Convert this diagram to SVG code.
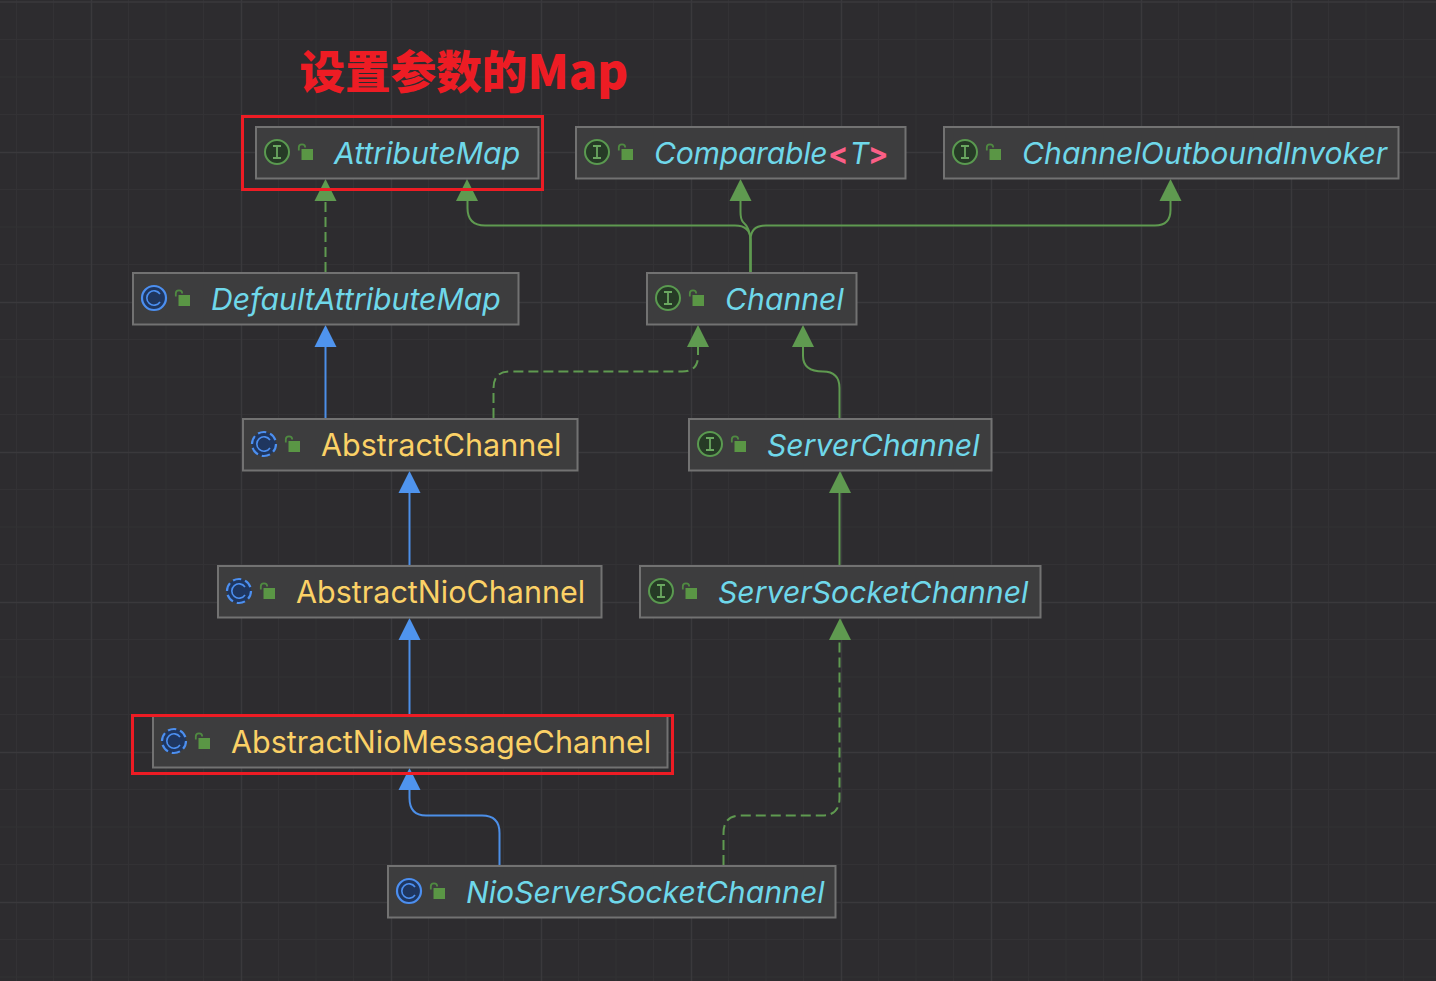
<svg xmlns="http://www.w3.org/2000/svg" width="1436" height="981" viewBox="0 0 1436 981">
<style>
.box{fill:#3d3d3e;stroke:#727272;stroke-width:2}
.t{font-family:Inter,"Liberation Sans",sans-serif;font-size:30.5px}
.i{font-style:italic;fill:#6fd8ea;font-size:30.2px}
.a{fill:#fbd166}
.p{fill:#fb5f87;font-style:normal;font-weight:700}
.g{fill:none;stroke:#5f9a50;stroke-width:2}
.b{fill:none;stroke:#4c8fe8;stroke-width:2}
.d{stroke-dasharray:10 5}
.hg{fill:#5f9a50}
.hb{fill:#4f94ee}
.red{fill:none;stroke:#ed1c24;stroke-width:3}
.gm{stroke:#333235;stroke-width:1}
.gM{stroke:#3a393c;stroke-width:1.5}
</style>
<defs>
<g id="lock"><rect x="3.500" y="-3" width="11.500" height="11" fill="#5a9645"/><path d="M0.800 -1.500V-4.500a3.200 3.200 0 0 1 6.400 0" fill="none" stroke="#4f8a41" stroke-width="1.800"/></g>
<g id="ci"><circle r="12" fill="#263a26" stroke="#5a9a50" stroke-width="2"/><path d="M-4 -6H4M-4 6H4M0 -6V6" stroke="#6aa860" stroke-width="1.800" fill="none"/></g>
<g id="cc"><circle r="12" fill="#1f365f" stroke="#4c8ff0" stroke-width="2.200"/><path d="M6 -4A7.200 7.200 0 1 0 6 4" fill="none" stroke="#4c8ff0" stroke-width="1.600"/></g>
<g id="ca"><circle r="12" fill="#1f365f" stroke="#4c8ff0" stroke-width="2.200" stroke-dasharray="8.500 4"/><path d="M6 -4A7.200 7.200 0 1 0 6 4" fill="none" stroke="#4c8ff0" stroke-width="1.600"/></g>
<path id="tri" d="M0 0L11 22H-11Z"/>
</defs>
<rect width="1436" height="981" fill="#2d2c2f"/>
<g id="grid">
<path class="gm" d="M16.500 0V981M53.500 0V981M128.500 0V981M166 0V981M203.500 0V981M278.500 0V981M316 0V981M353.500 0V981M428.500 0V981M466 0V981M503.500 0V981M578.500 0V981M616 0V981M653.500 0V981M728.500 0V981M766 0V981M803.500 0V981M878.500 0V981M916 0V981M953.500 0V981M1028.500 0V981M1066 0V981M1103.500 0V981M1178.500 0V981M1216 0V981M1253.500 0V981M1328.500 0V981M1366 0V981M1403.500 0V981"/>
<path class="gm" d="M0 39.500H1436M0 77H1436M0 114.500H1436M0 189.500H1436M0 227H1436M0 264.500H1436M0 339.500H1436M0 377H1436M0 414.500H1436M0 489.500H1436M0 527H1436M0 564.500H1436M0 639.500H1436M0 677H1436M0 714.500H1436M0 789.500H1436M0 827H1436M0 864.500H1436M0 939.500H1436M0 977H1436"/>
<path class="gM" d="M91.500 0V981M241.500 0V981M391.500 0V981M541.500 0V981M691.500 0V981M841.500 0V981M991.500 0V981M1141.500 0V981M1291.500 0V981"/>
<path class="gM" d="M0 2H1436M0 152.500H1436M0 302.500H1436M0 452.500H1436M0 602.500H1436M0 752.500H1436M0 902.500H1436"/>
</g>
<g id="connectors">
<path class="g d" d="M325.500 272V195"/>
<path class="g" d="M750.500 272V240Q750.500 225.500 735 225.500H485Q467.500 225.500 467.500 208V195"/>
<path class="g" d="M750.500 272V240Q750 228 743 222Q740.500 219 740.500 212V195"/>
<path class="g" d="M750.500 272V240Q750.500 225.500 766 225.500H1155Q1170.500 225.500 1170.500 210V195"/>
<path class="b" d="M325.500 418V342"/>
<path class="g d" d="M493.500 418V388Q493.500 371.500 510 371.500H682Q698 371.500 698 356V342"/>
<path class="g" d="M839.500 418V388Q839.500 371.500 823 371.500Q803 371.500 803 356V342"/>
<path class="b" d="M409.500 565V488"/>
<path class="g" d="M839.500 565V488"/>
<path class="b" d="M409.500 715V635"/>
<path class="g d" d="M723.500 865V833Q723.500 815.500 741 815.500H822Q839.500 815.500 839.500 798V635"/>
<path class="b" d="M499.500 865V833Q499.500 815.500 482 815.500H426Q409.500 815.500 409.500 798V785"/>
<g class="hg">
<use href="#tri" x="325.500" y="179"/><use href="#tri" x="467" y="179"/><use href="#tri" x="740.500" y="179"/><use href="#tri" x="1170.500" y="179"/>
<use href="#tri" x="698" y="325"/><use href="#tri" x="803" y="325"/><use href="#tri" x="840" y="471"/><use href="#tri" x="840" y="618"/>
</g>
<g class="hb">
<use href="#tri" x="325.500" y="325"/><use href="#tri" x="409.500" y="471"/><use href="#tri" x="409.500" y="618"/><use href="#tri" x="409.500" y="768"/>
</g>
</g>
<g id="node-attributemap"><rect class="box" x="256" y="127" width="282.500" height="51.500"/><use href="#ci" x="277" y="152"/><use href="#lock" x="298" y="152"/><text class="t i" x="334" y="164">AttributeMap</text></g>
<g id="node-comparable"><rect class="box" x="576" y="127" width="329.500" height="51.500"/><use href="#ci" x="597" y="152"/><use href="#lock" x="618" y="152"/><text class="t i" x="654" y="164" letter-spacing="-0.300">Comparable<tspan class="p" x="828">&lt;</tspan><tspan x="849.500">T</tspan><tspan class="p" x="868">&gt;</tspan></text></g>
<g id="node-channeloutboundinvoker"><rect class="box" x="944" y="127" width="454.500" height="51.500"/><use href="#ci" x="965" y="152"/><use href="#lock" x="986" y="152"/><text class="t i" x="1022" y="164">ChannelOutboundInvoker</text></g>
<g id="node-defaultattributemap"><rect class="box" x="133" y="273" width="385.500" height="51.500"/><use href="#cc" x="154" y="298"/><use href="#lock" x="175" y="298"/><text class="t i" x="211" y="310">DefaultAttributeMap</text></g>
<g id="node-channel"><rect class="box" x="647" y="273" width="209.500" height="51.500"/><use href="#ci" x="668" y="298"/><use href="#lock" x="689" y="298"/><text class="t i" x="725" y="310">Channel</text></g>
<g id="node-abstractchannel"><rect class="box" x="243" y="419" width="334.500" height="51.500"/><use href="#ca" x="264" y="444"/><use href="#lock" x="285" y="444"/><text class="t a" x="321" y="456">AbstractChannel</text></g>
<g id="node-serverchannel"><rect class="box" x="689" y="419" width="302.500" height="51.500"/><use href="#ci" x="710" y="444"/><use href="#lock" x="731" y="444"/><text class="t i" x="767" y="456">ServerChannel</text></g>
<g id="node-abstractniochannel"><rect class="box" x="218" y="566" width="383.500" height="51.500"/><use href="#ca" x="239" y="591"/><use href="#lock" x="260" y="591"/><text class="t a" x="296" y="603">AbstractNioChannel</text></g>
<g id="node-serversocketchannel"><rect class="box" x="640" y="566" width="400.500" height="51.500"/><use href="#ci" x="661" y="591"/><use href="#lock" x="682" y="591"/><text class="t i" x="718" y="603">ServerSocketChannel</text></g>
<g id="node-abstractniomessagechannel"><rect class="box" x="153" y="716" width="514.500" height="51.500"/><use href="#ca" x="174" y="741"/><use href="#lock" x="195" y="741"/><text class="t a" x="231" y="753">AbstractNioMessageChannel</text></g>
<g id="node-nioserversocketchannel"><rect class="box" x="388" y="866" width="447.500" height="51.500"/><use href="#cc" x="409" y="891"/><use href="#lock" x="430" y="891"/><text class="t i" x="466" y="903">NioServerSocketChannel</text></g>
<g id="annotations">
<rect class="red" x="242.500" y="116.500" width="300" height="73"/>
<rect class="red" x="132.500" y="715.500" width="540" height="58"/>
<text x="299.500" y="89" font-family="'Noto Sans CJK SC','Noto Sans',sans-serif" font-weight="900" font-size="45.600" fill="#ed1c24">设置参数的<tspan font-size="47">Map</tspan></text>
</g>
</svg>
